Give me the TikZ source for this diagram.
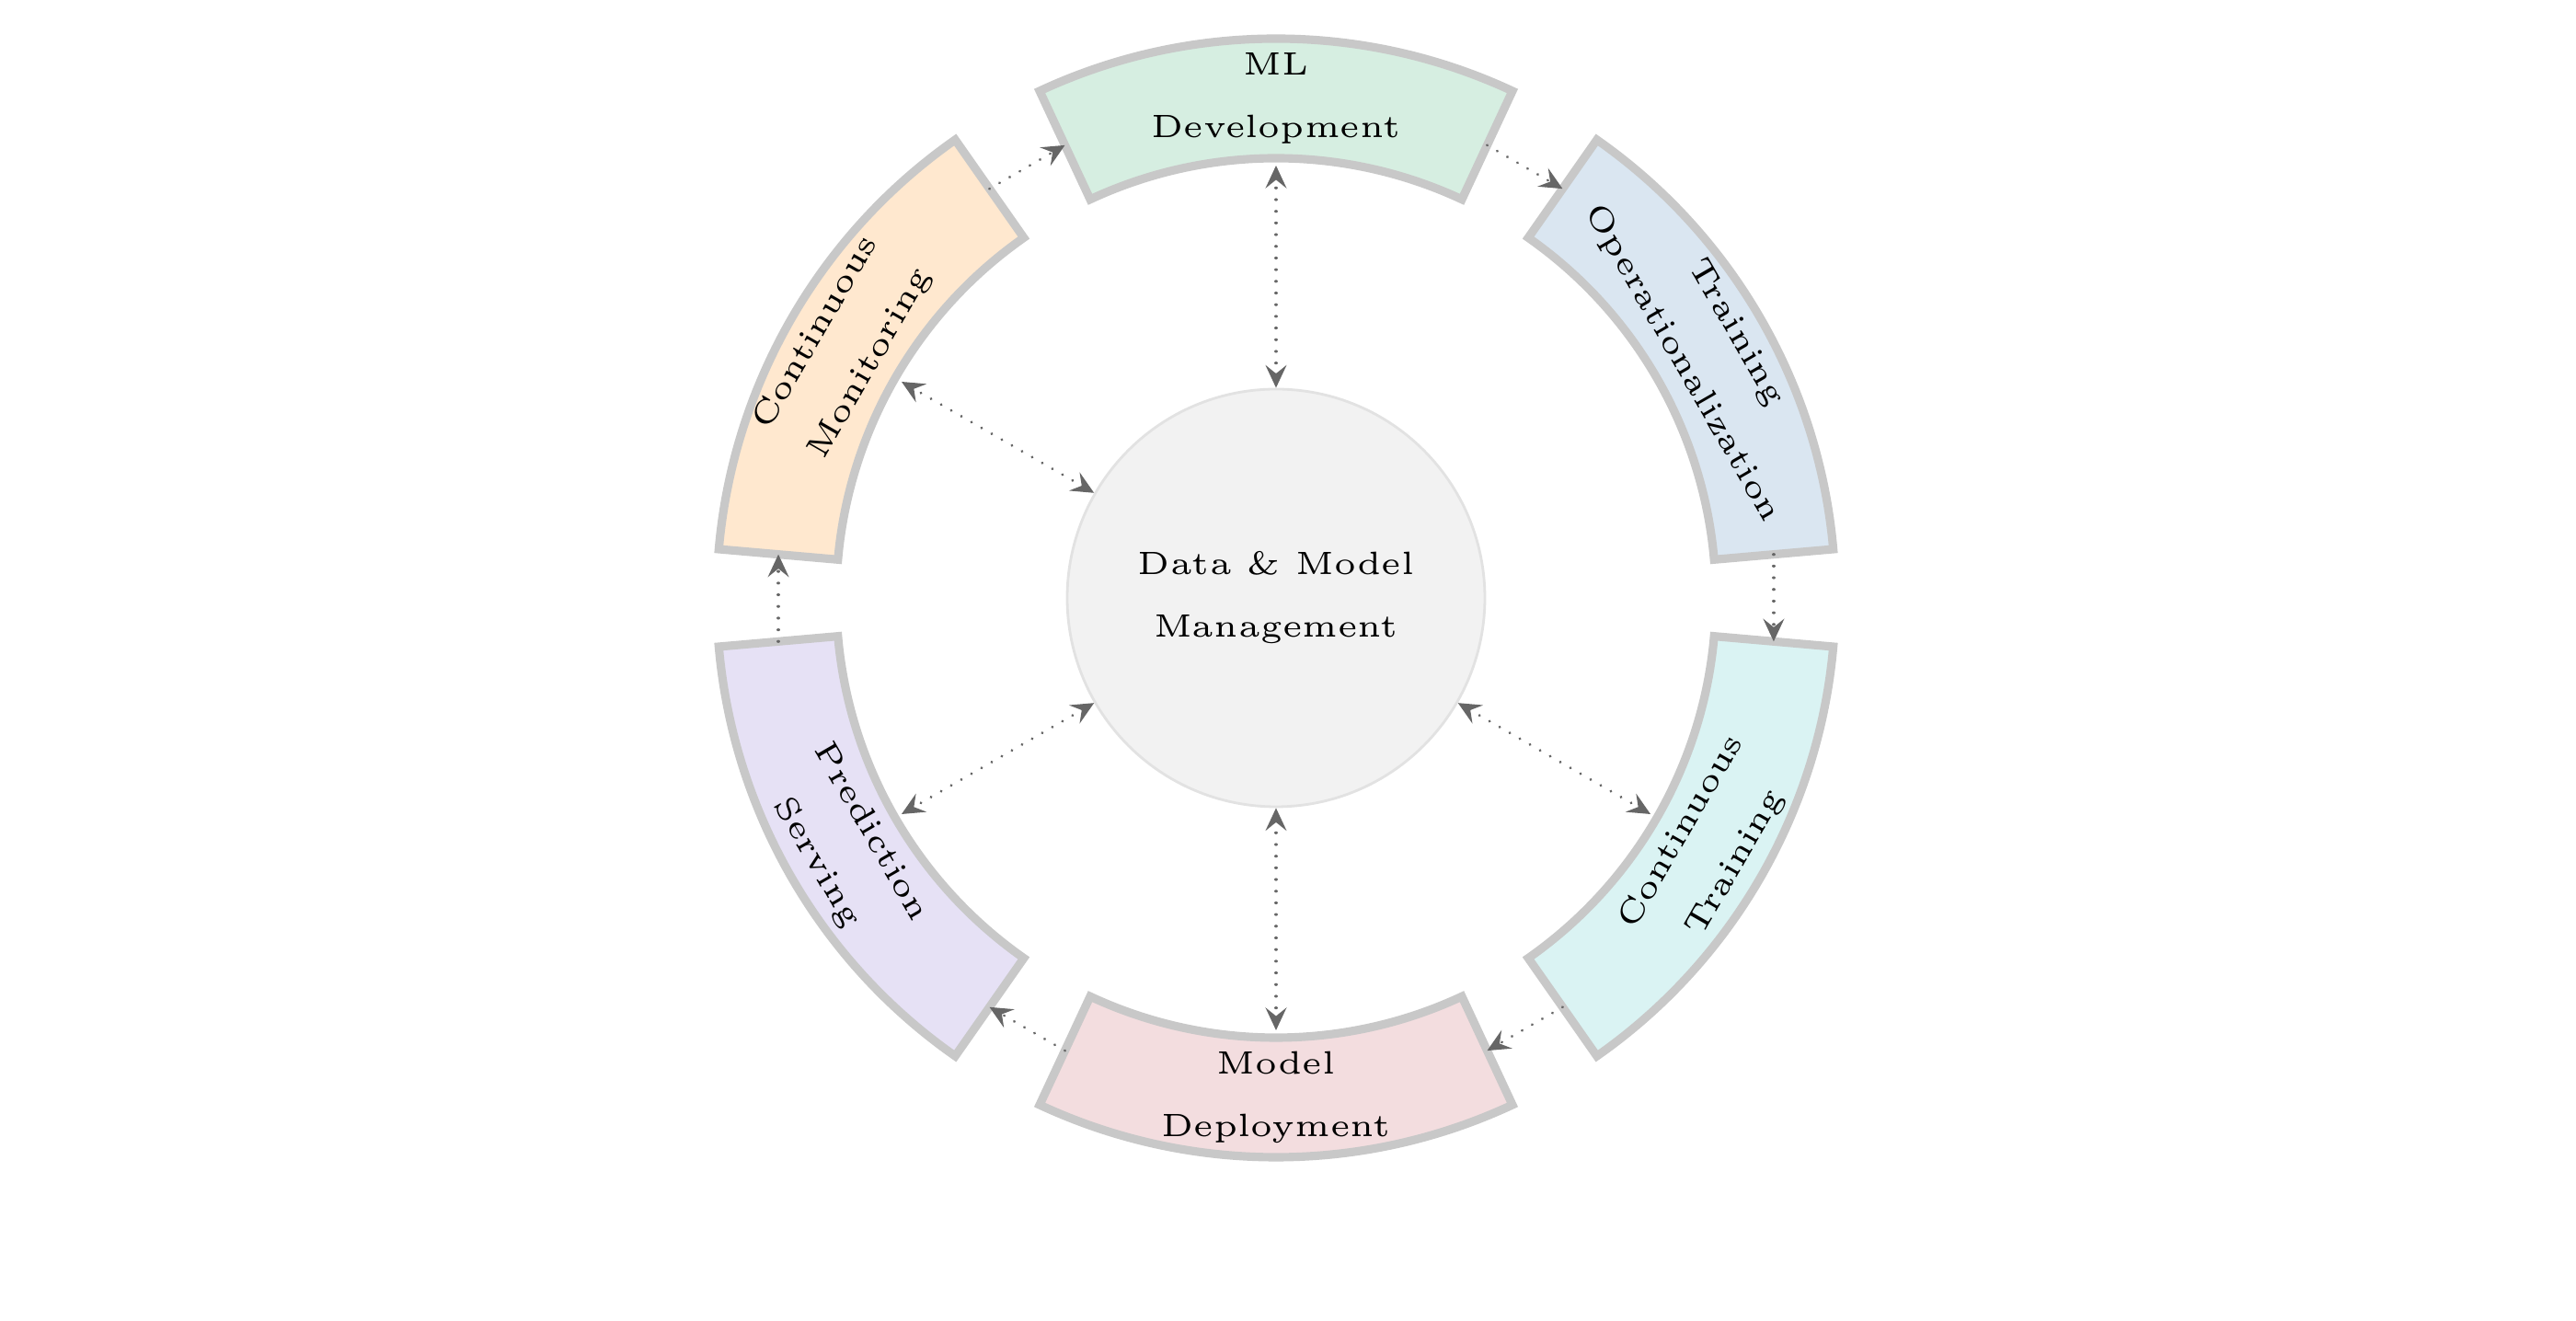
\documentclass[tikz,border=0pt]{standalone}
\usetikzlibrary{arrows.meta}
\definecolor{ringgray}{HTML}{C8C8C8}
\definecolor{linkgray}{HTML}{666666}
\definecolor{hubfill}{HTML}{F2F2F2}
\definecolor{hubdraw}{HTML}{E2E2E2}
\definecolor{mlgreen}{HTML}{D6EEE1}
\definecolor{opblue}{HTML}{DAE6F1}
\definecolor{ctcyan}{HTML}{DAF3F3}
\definecolor{deppink}{HTML}{F3DDDF}
\definecolor{servlilac}{HTML}{E6E1F5}
\definecolor{monorange}{HTML}{FFE8CF}
\begin{document}
\begin{tikzpicture}[
  segment/.style={draw=ringgray,line width=2.6pt,line join=miter},
  seglabel/.style={font=\tiny,align=center,scale=2.0,inner sep=0pt},
  hub/.style={circle,fill=hubfill,draw=hubdraw,line width=0.8pt,minimum size=4.54cm,inner sep=0pt,font=\tiny,align=center},
  link/.style={draw=linkgray,line width=0.9pt,dash pattern=on 0.01pt off 3.6pt,line cap=round},
  >={Stealth[length=7pt,width=6.5pt,inset=2.6pt]}
]
\useasboundingbox (-13.87,-7.86) rectangle (14.13,6.50);
\filldraw[segment,fill=mlgreen] (65:6.08) arc[start angle=65,end angle=115,radius=6.08] -- (115:4.78) arc[start angle=115,end angle=65,radius=4.78] -- cycle;
\filldraw[segment,fill=opblue] (5:6.08) arc[start angle=5,end angle=55,radius=6.08] -- (55:4.78) arc[start angle=55,end angle=5,radius=4.78] -- cycle;
\filldraw[segment,fill=ctcyan] (-55:6.08) arc[start angle=-55,end angle=-5,radius=6.08] -- (-5:4.78) arc[start angle=-5,end angle=-55,radius=4.78] -- cycle;
\filldraw[segment,fill=deppink] (-115:6.08) arc[start angle=-115,end angle=-65,radius=6.08] -- (-65:4.78) arc[start angle=-65,end angle=-115,radius=4.78] -- cycle;
\filldraw[segment,fill=servlilac] (-175:6.08) arc[start angle=-175,end angle=-125,radius=6.08] -- (-125:4.78) arc[start angle=-125,end angle=-175,radius=4.78] -- cycle;
\filldraw[segment,fill=monorange] (125:6.08) arc[start angle=125,end angle=175,radius=6.08] -- (175:4.78) arc[start angle=175,end angle=125,radius=4.78] -- cycle;
\node[hub] (dmm) at (0,0) {\scalebox{2.0}{\begin{tabular}{c}Data \& Model\\[3.6pt]Management\end{tabular}}};
\node[seglabel] (mldev) at (90:5.43) {ML\\[3.6pt]Development};
\node[seglabel,rotate=-60] (trainop) at (30:5.43) {Training\\[3.6pt]Operationalization};
\node[seglabel,rotate=60] (conttrain) at (-30:5.43) {Continuous\\[3.6pt]Training};
\node[seglabel] (modeldep) at (-90:5.43) {Model\\[3.6pt]Deployment};
\node[seglabel,rotate=-60] (predserv) at (-150:5.43) {Prediction\\[3.6pt]Serving};
\node[seglabel,rotate=60] (contmon) at (150:5.43) {Continuous\\[3.6pt]Monitoring};
\coordinate (mldev-in) at (90:4.70);
\coordinate (conttrain-in) at (-30:4.70);
\coordinate (modeldep-in) at (-90:4.70);
\coordinate (predserv-in) at (-150:4.70);
\coordinate (contmon-in) at (150:4.70);
\coordinate (mldev-cw) at (65:5.43);
\coordinate (mldev-ccw) at (115:5.43);
\coordinate (trainop-cw) at (5:5.43);
\coordinate (trainop-ccw) at (55:5.43);
\coordinate (conttrain-cw) at (-55:5.43);
\coordinate (conttrain-ccw) at (-5:5.43);
\coordinate (modeldep-cw) at (-115:5.43);
\coordinate (modeldep-ccw) at (-65:5.43);
\coordinate (predserv-cw) at (-175:5.43);
\coordinate (predserv-ccw) at (-125:5.43);
\coordinate (contmon-cw) at (125:5.43);
\coordinate (contmon-ccw) at (175:5.43);
\draw[link,<->] (dmm.90) -- (mldev-in);
\draw[link,<->] (dmm.-30) -- (conttrain-in);
\draw[link,<->] (dmm.-90) -- (modeldep-in);
\draw[link,<->] (dmm.-150) -- (predserv-in);
\draw[link,<->] (dmm.150) -- (contmon-in);
\draw[link,->] (mldev-cw) -- (trainop-ccw);
\draw[link,->] (trainop-cw) -- (conttrain-ccw);
\draw[link,->] (conttrain-cw) -- (modeldep-ccw);
\draw[link,->] (modeldep-cw) -- (predserv-ccw);
\draw[link,->] (predserv-cw) -- (contmon-ccw);
\draw[link,->] (contmon-cw) -- (mldev-ccw);
\end{tikzpicture}
\end{document}
